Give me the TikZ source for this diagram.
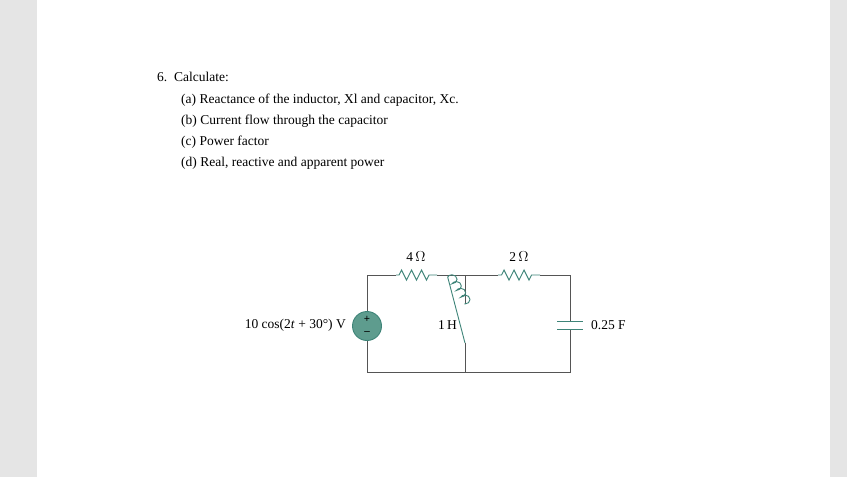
\documentclass[tikz,border=0pt]{standalone}
\usepackage{fontspec}
\setmainfont{Liberation Serif}
\usetikzlibrary{decorations.pathmorphing}
\definecolor{teal1}{HTML}{3E8478}
\definecolor{tealfill}{HTML}{5E9C8E}
\definecolor{wire}{HTML}{555555}
\begin{document}
\begin{tikzpicture}[x=1pt,y=-1pt,
  txt/.style={anchor=west,inner sep=0pt,font=\fontsize{13.5}{16}\selectfont},
  lbl/.style={inner sep=0pt,font=\fontsize{13.5}{16}\selectfont},
  wr/.style={draw=wire,line width=0.9pt},
  comp/.style={draw=teal1,line width=0.9pt}]
\fill[gray!20] (0,0) rectangle (847,477);
\fill[white] (37,0) rectangle (830,477);
\useasboundingbox (0,0) rectangle (847,477);
\node[txt] (t0) at (157,77) {6.\ \ Calculate:};
\node[txt] (t1) at (181,100) {(a) Reactance of the inductor, X\textsc{l} and capacitor, X\textsc{c}.};
\node[txt] (t2) at (181,121) {(b) Current flow through the capacitor};
\node[txt] (t3) at (181,142) {(c) Power factor};
\node[txt] (t4) at (181,163) {(d) Real, reactive and apparent power};
% nodes
\coordinate (tl) at (367,275); \coordinate (tm) at (465,275); \coordinate (tr) at (570,275);
\coordinate (bl) at (367,372); \coordinate (bm) at (465,372); \coordinate (br) at (570,372);
\coordinate (r1a) at (396,275); \coordinate (r1b) at (437,275);
\coordinate (r2a) at (498,275); \coordinate (r2b) at (540,275);
\coordinate (la) at (465,303); \coordinate (lb) at (465,343);
\coordinate (ca) at (570,321); \coordinate (cb) at (570,329);
\node[circle,draw=teal1,fill=tealfill,line width=0.9pt,minimum size=29pt,inner sep=0pt] (src) at (367,326) {};
\node[font=\fontsize{11}{11}\selectfont\bfseries,inner sep=0pt] (plus) at (367,319) {+};
\node[font=\fontsize{11}{11}\selectfont\bfseries,inner sep=0pt] (minus) at (367,333) {--};
% wires
\draw[wr] (src.north) -- (tl) -- (r1a);
\draw[wr] (r1b) -- (r2a);
\draw[wr] (r2b) -- (tr) -- (ca);
\draw[wr] (cb) -- (br) -- (bl) -- (src.south);
\draw[wr] (tm) -- (la); \draw[wr] (lb) -- (bm);
% resistors
\draw[comp] (r1a) -- ++(3,0) -- ++(2.5,-5) -- ++(5,10) -- ++(5,-10) -- ++(5,10) -- ++(5,-10) -- ++(5,10) -- ++(2.5,-5) -- (r1b);
\draw[comp] (r2a) -- ++(3.5,0) -- ++(2.5,-5) -- ++(5,10) -- ++(5,-10) -- ++(5,10) -- ++(5,-10) -- ++(5,10) -- ++(2.5,-5) -- (r2b);
% inductor
\draw[comp] (la) -- ++(0,1) \foreach \i in {1,...,4}{ arc[start angle=-90,end angle=150,x radius=5,y radius=-4.5] } -- (lb);
% capacitor
\draw[comp] (557,321) -- (583,321);
\draw[comp] (557,329) -- (583,329);
% labels
\node[lbl] (l4) at (416,257) {4\,$\Omega$};
\node[lbl] (l2) at (519,257) {2\,$\Omega$};
\node[lbl,anchor=east] (lH) at (457,325) {1\,H};
\node[lbl,anchor=west] (lC) at (591,325) {0.25 F};
\node[lbl,anchor=east] (lV) at (346,325) {10 cos(2\textit{t} + 30\textdegree) V};
\end{tikzpicture}
\end{document}
